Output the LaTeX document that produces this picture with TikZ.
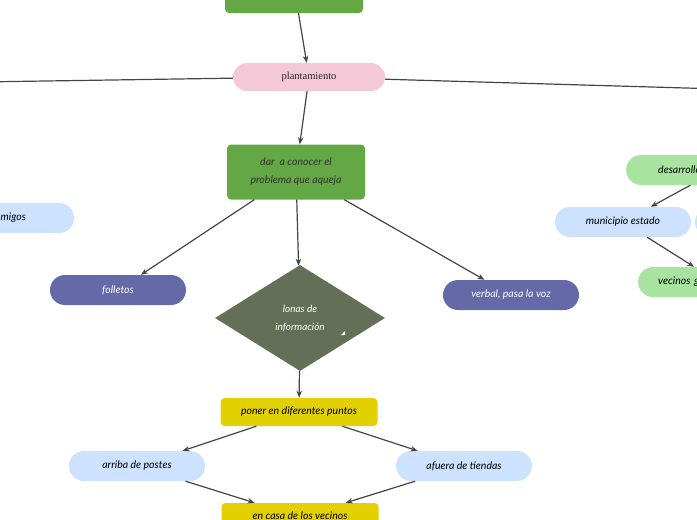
\documentclass[tikz,border=0pt]{standalone}
\usepackage{fontspec}
\usepackage{tikz}
\usetikzlibrary{shapes.geometric,arrows.meta}
\setmainfont{Liberation Serif}
\newfontfamily\hand{Lato}
\usepackage{xcolor}
\definecolor{gruen}{RGB}{100,168,69}
\definecolor{rosa}{RGB}{245,200,216}
\definecolor{lila}{RGB}{100,105,168}
\definecolor{oliv}{RGB}{100,111,88}
\definecolor{gelb}{RGB}{226,208,0}
\definecolor{hellblau}{RGB}{204,226,255}
\definecolor{hellgruen}{RGB}{168,228,160}
\definecolor{linie}{RGB}{68,68,68}

\tikzset{
  pill/.style={rounded corners=15pt, minimum width=136pt, minimum height=30pt, inner sep=0pt,
    font=\hand\itshape\fontsize{10.5}{12}\selectfont},
  kasten/.style={rounded corners=4pt, inner sep=0pt, align=center,
    font=\hand\itshape\fontsize{10.5}{18}\selectfont},
  pfeil/.style={draw=linie, line width=1.2pt, -{Stealth[length=7pt,width=5.5pt]}},
  linie/.style={draw=linie, line width=1.2pt}
}

\begin{document}
\begin{tikzpicture}[x=1pt, y=-1pt]
        \useasboundingbox (0,0) rectangle (697,520);
        \clip (0,0) rectangle (697,520);

        % Oberer Kasten (abgeschnitten)
        \node[kasten, fill=gruen, minimum width=138pt, minimum height=54pt] (oben) at (294,-14) {};

        % plantamiento
        \node[pill, fill=rosa, minimum width=152pt, minimum height=28pt, rounded corners=14pt,
              font=\fontsize{10.5}{12}\selectfont, text=black!85] (plant) at (309,77) {plantamiento};
        \coordinate (links) at (-20,82);
        \coordinate (rechts) at (720,89);
        \draw[linie] (plant) -- (links);
        \draw[linie] (plant) -- (rechts);

        % dar a conocer
        \node[kasten, fill=gruen, minimum width=138pt, minimum height=55pt, text=black!80] (dar) at (296,172)
             {dar\ \ a conocer el\\ problema que aqueja};

        % Linke Seite (abgeschnitten)
        \node[pill, fill=hellblau] (amigos) at (6,218) {};
        \node[anchor=west, inner sep=0pt, font=\hand\itshape\fontsize{10.5}{12}\selectfont] (amigostext) at (0.5,218) {migos};

        % folletos / verbal
        \node[pill, fill=lila, text=white] (folletos) at (118,290) {folletos};
        \node[pill, fill=lila, text=white] (verbal) at (511,295) {verbal, pasa la voz};

        % Raute
        \node[diamond, fill=oliv, minimum width=170pt, minimum height=106pt, inner sep=0pt, align=center,
              text=white, font=\hand\itshape\fontsize{10}{18}\selectfont] (lonas) at (300,318)
             {\raisebox{-4pt}{lonas de}\\ \raisebox{-4pt}{información}};
        \fill[white] (341,335) -- (345,335) -- (345,331) -- cycle; % kleine Marke

        % gelbe Kaesten
        \node[kasten, fill=gelb, minimum width=157pt, minimum height=28pt] (poner) at (299,412) {poner en diferentes puntos};
        \node[kasten, fill=gelb, minimum width=157pt, minimum height=28pt] (casa) at (300,517) {\raisebox{3pt}{en casa de los vecinos}};

        % arriba / afuera
        \node[pill, fill=hellblau] (arriba) at (137,466) {arriba de postes};
        \node[pill, fill=hellblau] (afuera) at (464,466) {afuera de tiendas};

        % Rechte Seite (abgeschnitten)
        \node[pill, fill=hellgruen, anchor=west, text width=120pt, inner xsep=32pt, align=left] (desarrollo) at (626,170) {desarrollo};
        \node[pill, fill=hellblau] (municipio) at (623,222) {municipio estado};
        \node[pill, fill=hellblau] (rechtsblau) at (763,222) {};
        \node[pill, fill=hellgruen, anchor=west, text width=120pt, inner xsep=20pt, align=left] (vecinos) at (638,282) {vecinos g};

        % Pfeile
        \draw[pfeil] (oben) -- (plant);
        \draw[pfeil] (plant) -- (dar);
        \draw[pfeil] (dar) -- (folletos);
        \draw[pfeil] (dar) -- (lonas);
        \draw[pfeil] (dar) -- (verbal);
        \draw[pfeil] (lonas) -- (poner);
        \draw[pfeil] (poner) -- (arriba);
        \draw[pfeil] (poner) -- (afuera);
        \draw[pfeil] (arriba) -- (casa);
        \draw[pfeil] (afuera) -- (casa);
        \draw[pfeil] (desarrollo) -- (municipio);
        \draw[pfeil] (municipio) -- (vecinos);
\end{tikzpicture}
\end{document}
